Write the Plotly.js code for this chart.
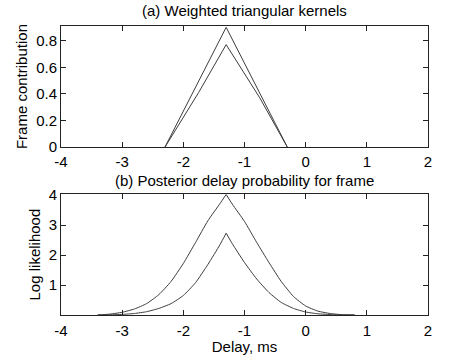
<!DOCTYPE html>
<html>
<head>
<meta charset="utf-8">
<script src="https://cdn.plot.ly/plotly-3.0.1.min.js"></script>
<style>html,body{margin:0;padding:0;background:#fff;}#chart{width:474px;height:355px;}</style>
</head>
<body>
<div id="chart"></div>
<script>
// (a) Weighted triangular kernels
const kernelAx = [-2.3, -1.3, -0.3];
const kernelAy = [0, 0.9, 0];
const kernelBx = [-2.3, -1.75, -1.3, -0.75, -0.3];
const kernelBy = [0, 0.41, 0.77, 0.37, 0];

// (b) Posterior delay probability for frame
const delayX = [-3.4, -3.2, -3.0, -2.8, -2.6, -2.4, -2.2, -2.0, -1.8, -1.6, -1.4, -1.3, -1.2, -1.0, -0.8, -0.6, -0.4, -0.2, 0.0, 0.2, 0.4, 0.6, 0.8];
const logLikA = [0.0, 0.03, 0.09, 0.2, 0.38, 0.68, 1.12, 1.72, 2.42, 3.14, 3.72, 4.02, 3.7, 3.12, 2.42, 1.75, 1.12, 0.62, 0.3, 0.13, 0.05, 0.01, 0.0];
const logLikB = [0.0, 0.005, 0.02, 0.05, 0.11, 0.22, 0.38, 0.65, 1.08, 1.68, 2.35, 2.73, 2.38, 1.75, 1.2, 0.75, 0.42, 0.22, 0.1, 0.04, 0.015, 0.005, 0.0];
const peakIndex = 11; // the cusp at -1.3 ms

// ticks
const xTickVals = [-4, -3, -2, -1, 0, 1, 2];
const xTickText = ['-4', '-3', '-2', '-1', '0', '1', '2'];
const y1TickVals = [0, 0.2, 0.4, 0.6, 0.8];
const y1TickText = ['0', '0.2', '0.4', '0.6', '0.8'];
const y2TickVals = [1, 2, 3, 4];
const y2TickText = ['1', '2', '3', '4'];

const titleA = '(a) Weighted triangular kernels';
const titleB = '(b) Posterior delay probability for frame';

const lineStyle = {color: '#3c3c3c', width: 1};
const smoothStyle = {color: '#3c3c3c', width: 1, shape: 'spline', smoothing: 0.5};
function half(arr, side) { return side === 'L' ? arr.slice(0, peakIndex + 1) : arr.slice(peakIndex); }

const traces = [
  {x: kernelAx, y: kernelAy, xaxis: 'x', yaxis: 'y', mode: 'lines', line: lineStyle, hoverinfo: 'skip'},
  {x: kernelBx, y: kernelBy, xaxis: 'x', yaxis: 'y', mode: 'lines', line: lineStyle, hoverinfo: 'skip'}
];
[logLikA, logLikB].forEach(function (ys) {
  ['L', 'R'].forEach(function (s) {
    traces.push({x: half(delayX, s), y: half(ys, s), xaxis: 'x2', yaxis: 'y2', mode: 'lines', line: smoothStyle, hoverinfo: 'skip'});
  });
});

const fontF = '"Liberation Sans", Arial, sans-serif';
const axBase = {
  showline: true, linecolor: '#222', linewidth: 1, mirror: 'ticks',
  ticks: 'inside', ticklen: 5, tickcolor: '#222', tickwidth: 1,
  showgrid: false, zeroline: false, tickmode: 'array',
  tickfont: {family: fontF, size: 15, color: '#000'}, fixedrange: true
};

const layout = {
  width: 474, height: 355,
  margin: {l: 61, r: 46, t: 26, b: 40},
  paper_bgcolor: '#fff', plot_bgcolor: '#fff',
  showlegend: false,
  font: {family: fontF, size: 15, color: '#000'},
  xaxis: Object.assign({}, axBase, {domain: [0, 1], range: [-4, 2], tickvals: xTickVals, ticktext: xTickText, anchor: 'y', ticklabelstandoff: 1}),
  yaxis: Object.assign({}, axBase, {domain: [0.581, 1], range: [0, 0.91], tickvals: y1TickVals, ticktext: y1TickText, anchor: 'x',
    title: {text: 'Frame contribution', font: {family: fontF, size: 15, color: '#000'}, standoff: 4}}),
  xaxis2: Object.assign({}, axBase, {domain: [0, 1], range: [-4, 2], tickvals: xTickVals, ticktext: xTickText, anchor: 'y2', ticklabelstandoff: 2,
    title: {text: 'Delay, ms', font: {family: fontF, size: 15, color: '#000'}, standoff: 2}}),
  yaxis2: Object.assign({}, axBase, {domain: [0, 0.418], range: [0, 4.03], tickvals: y2TickVals, ticktext: y2TickText, anchor: 'x2',
    title: {text: 'Log likelihood', font: {family: fontF, size: 15, color: '#000'}, standoff: 4}}),
  annotations: [
    {text: titleA, xref: 'paper', yref: 'paper', x: 0.5, y: 1.052, xanchor: 'center', yanchor: 'middle', showarrow: false, font: {family: fontF, size: 15, color: '#000'}},
    {text: titleB, xref: 'paper', yref: 'paper', x: 0.5, y: 0.466, xanchor: 'center', yanchor: 'middle', showarrow: false, font: {family: fontF, size: 15, color: '#000'}}
  ]
};

Plotly.newPlot('chart', traces, layout, {staticPlot: true, displayModeBar: false});
</script>
</body>
</html>
